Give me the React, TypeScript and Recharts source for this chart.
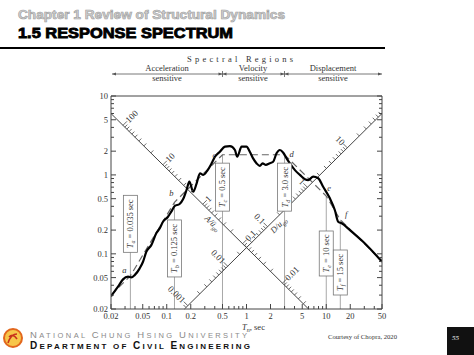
import { LineChart, Line, XAxis, YAxis, ReferenceLine, ReferenceDot } from 'recharts';

// pseudo-velocity spectrum V / u̇go (El Centro, 5% damping)
const periods = [
  0.02, 0.0245, 0.0283, 0.0327, 0.0359, 0.0396, 0.0458, 0.0504, 0.0554, 0.064,
  0.0739, 0.0815, 0.0897, 0.1036, 0.114, 0.126, 0.145, 0.16, 0.177, 0.192,
  0.215, 0.237, 0.261, 0.287, 0.316, 0.365, 0.402, 0.464, 0.537, 0.62,
  0.716, 0.765, 0.868, 1.0, 1.1, 1.21, 1.34, 1.47, 1.59, 1.75,
  1.93, 2.16, 2.38, 2.62, 2.89, 3.18, 3.5, 4.05, 4.67, 5.4,
  5.94, 6.86, 7.92, 9.14, 11.1, 12.8, 14.1, 15.6, 19.8, 29.0, 50,
];
const pseudoVel = [
  0.029, 0.0383, 0.0475, 0.0513, 0.0503, 0.0538, 0.0655, 0.0794, 0.106, 0.129,
  0.182, 0.21, 0.255, 0.295, 0.342, 0.404, 0.428, 0.491, 0.644, 0.82,
  0.612, 0.783, 1.05, 1.0, 1.1, 1.4, 1.7, 1.97, 2.28, 2.32,
  2.07, 1.7, 2.28, 2.28, 1.97, 1.62, 1.4, 1.3, 1.4, 1.34,
  1.4, 1.47, 1.88, 2.07, 1.91, 1.62, 1.4, 1.15, 1.0, 0.88,
  0.861, 0.949, 0.906, 0.708, 0.505, 0.359, 0.255, 0.244, 0.2, 0.142, 0.0794,
];

// idealized spectrum (dashed)
const idealPeriods = [0.02, 0.035, 0.125, 0.5, 3, 10, 15, 50];
const idealVel = [0.03, 0.0526, 0.45, 1.8, 1.8, 0.54, 0.27, 0.081];

// corner periods a..f
const cornerNames = ['a', 'b', 'c', 'd', 'e', 'f'];
const cornerPeriods = [0.035, 0.125, 0.5, 3, 10, 15];
const cornerVel = [0.0526, 0.45, 1.8, 1.8, 0.54, 0.27];
const cornerTexts = ['0.035', '0.125', '0.5', '3.0', '10', '15'];
const boxMid = [0.24, 0.117, 0.7, 0.7, 0.101, 0.058];
const letterOffset = [[-6, -6], [-3, -9], [-8, 0], [7, -1], [3, -8], [6, -6]];

const xTicks = [
  0.02, 0.03, 0.04, 0.05, 0.06, 0.07, 0.08, 0.09, 0.1, 0.2, 0.3, 0.4, 0.5, 0.6,
  0.7, 0.8, 0.9, 1, 2, 3, 4, 5, 6, 7, 8, 9, 10, 20, 30, 40, 50,
];
const yTicks = [
  0.02, 0.03, 0.04, 0.05, 0.06, 0.07, 0.08, 0.09, 0.1, 0.2, 0.3, 0.4, 0.5, 0.6,
  0.7, 0.8, 0.9, 1, 2, 3, 4, 5, 6, 7, 8, 9, 10,
];
const xLabels = [0.02, 0.05, 0.1, 0.2, 0.5, 1, 2, 5, 10, 20, 50];
const yLabels = [0.02, 0.05, 0.1, 0.2, 0.5, 1, 2, 5, 10];

// tripartite axes
const accelPerVel = 0.665; // 2π u̇go / ügo
const dispPerVel = 0.247; // u̇go / (2π ugo)
const axisK = 0.12;
const accelLabels = [100, 10, 1, 0.1, 0.01];
const dispLabels = [0.001, 0.01, 0.1, 1, 10];

const SERIF = '"Liberation Serif", "DejaVu Serif", serif';
const SANS = '"Liberation Sans", Arial, sans-serif';
const AXIS = '#444';

const spectrum = periods.map((T, i) => ({ T, v: pseudoVel[i] }));
const ideal = idealPeriods.map((T, i) => ({ T, v: idealVel[i] }));

function logSteps(lo: number, hi: number) {
  const out: number[] = [];
  for (let e = -4; e <= 3; e++) {
    for (let m = 1; m <= 9; m++) {
      const val = m * Math.pow(10, e);
      if (val >= lo && val <= hi) out.push(val);
    }
  }
  return out;
}
const isDecade = (v: number) => Math.abs(Math.log10(v) - Math.round(Math.log10(v))) < 1e-6;

const accelPos = (A: number) => {
  const T = Math.sqrt((accelPerVel * axisK) / A);
  return { T, v: axisK / T };
};
const dispPos = (D: number) => {
  const T = Math.sqrt(D / (dispPerVel * axisK));
  return { T, v: axisK * T };
};
const accelTicks = logSteps(0.003, 190);
const dispTicks = logSteps(0.0009, 70);

const bottomTick = (p: any) => {
  const val = p.payload.value;
  const major = xLabels.includes(val);
  return (
    <g>
      <line x1={p.x} y1={p.y} x2={p.x} y2={p.y - (major ? 5 : 3)} stroke={AXIS} />
      {major && (
        <text x={p.x} y={p.y + 10} textAnchor="middle" fontSize={8.5} fill="#333" fontFamily={SERIF}>
          {val}
        </text>
      )}
    </g>
  );
};
const topTick = (p: any) => {
  const major = xLabels.includes(p.payload.value);
  return <line x1={p.x} y1={p.y} x2={p.x} y2={p.y + (major ? 5 : 3)} stroke={AXIS} />;
};
const leftTick = (p: any) => {
  const val = p.payload.value;
  const major = yLabels.includes(val);
  return (
    <g>
      <line x1={p.x} y1={p.y} x2={p.x + (major ? 5 : 3)} y2={p.y} stroke={AXIS} />
      {major && (
        <text x={p.x - 3} y={p.y + 3} textAnchor="end" fontSize={8.5} fill="#333" fontFamily={SERIF}>
          {val}
        </text>
      )}
    </g>
  );
};
const rightTick = (p: any) => {
  const major = yLabels.includes(p.payload.value);
  return <line x1={p.x} y1={p.y} x2={p.x - (major ? 5 : 3)} y2={p.y} stroke={AXIS} />;
};

function Sub({ main, sub, rest }: { main: string; sub: string; rest?: string }) {
  return (
    <>
      <tspan fontStyle="italic">{main}</tspan>
      <tspan fontStyle="italic" fontSize="0.72em" dy={2}>{sub}</tspan>
      {rest !== undefined && <tspan dy={-2}>{rest}</tspan>}
    </>
  );
}

function Overlay() {
  return (
    <svg width={474} height={355} style={{ position: 'absolute', left: 0, top: 0 }}>
      <text x={18} y={18.5} fontFamily={SANS} fontWeight={900} fontSize={12} fill="#d0d0d0"
        stroke="#a0a0a0" strokeWidth={0.6} textLength={267} lengthAdjust="spacingAndGlyphs">
        Chapter 1 Review of Structural Dynamics
      </text>
      <text x={18} y={38} fontFamily={SANS} fontWeight={900} fontSize={15.5} fill="#000"
        stroke="#000" strokeWidth={0.9} textLength={215} lengthAdjust="spacingAndGlyphs">
        1.5 RESPONSE SPECTRUM
      </text>
      <line x1={0} y1={48} x2={385} y2={48} stroke="#000" strokeWidth={2} />

      <g fontFamily={SERIF} fontSize={8.5} fill="#333" textAnchor="middle">
        <text x={187} y={62} textAnchor="start" textLength={106} lengthAdjust="spacing">Spectral Regions</text>
        <text x={167} y={71}>Acceleration</text>
        <text x={167} y={81}>sensitive</text>
        <text x={253} y={71}>Velocity</text>
        <text x={253} y={81}>sensitive</text>
        <text x={333} y={71}>Displacement</text>
        <text x={333} y={81}>sensitive</text>
      </g>
      <g stroke="#555" strokeWidth={0.8} fill="#555">
        <line x1={112} y1={74} x2={382} y2={74} />
        <line x1={222.5} y1={71} x2={222.5} y2={77} />
        <line x1={284.5} y1={71} x2={284.5} y2={77} />
        <path d="M112 74 l4 -1.6 v3.2 z" stroke="none" />
        <path d="M382 74 l-4 -1.6 v3.2 z" stroke="none" />
        <path d="M222.5 74 l-4 -1.6 v3.2 z M222.5 74 l4 -1.6 v3.2 z" stroke="none" />
        <path d="M284.5 74 l-4 -1.6 v3.2 z M284.5 74 l4 -1.6 v3.2 z" stroke="none" />
      </g>

      <text x={242} y={330} fontFamily={SERIF} fontSize={8.5} fill="#333">
        <Sub main="T" sub="n" rest=", sec" />
      </text>

      <circle cx={13} cy={338} r={9} fill="#f7c64a" stroke="#e2671d" strokeWidth={2} />
      <path d="M8 343 q3 -9 9 -9 M9 337 q4 -4 8 2" stroke="#c8321c" strokeWidth={1.6} fill="none" />
      <text x={30} y={337.5} fontFamily={SANS} fill="#8a8a8a" textLength={217} lengthAdjust="spacing">
        <tspan fontSize={9.5}>N</tspan><tspan fontSize={7.5}>ATIONAL </tspan>
        <tspan fontSize={9.5}>C</tspan><tspan fontSize={7.5}>HUNG </tspan>
        <tspan fontSize={9.5}>H</tspan><tspan fontSize={7.5}>SING </tspan>
        <tspan fontSize={9.5}>U</tspan><tspan fontSize={7.5}>NIVERSITY</tspan>
      </text>
      <text x={30} y={348.5} fontFamily={SANS} fontWeight={700} fill="#111" textLength={220} lengthAdjust="spacing">
        <tspan fontSize={10}>D</tspan><tspan fontSize={8}>EPARTMENT OF </tspan>
        <tspan fontSize={10}>C</tspan><tspan fontSize={8}>IVIL </tspan>
        <tspan fontSize={10}>E</tspan><tspan fontSize={8}>NGINEERING</tspan>
      </text>
      <text x={328} y={339} fontFamily={SERIF} fontSize={7} fill="#333" textLength={69} lengthAdjust="spacingAndGlyphs">
        Courtesy of Chopra, 2020
      </text>
      <rect x={447} y={327} width={27} height={28} fill="#111" />
      <text x={452} y={340} fontFamily={SERIF} fontStyle="italic" fontSize={7} fill="#fff">55</text>
    </svg>
  );
}

export default function App() {
  return (
    <div style={{ position: 'absolute', left: 0, top: 0, width: 474, height: 355, background: '#fff', overflow: 'hidden' }}>
      <Overlay />
      <div style={{ position: 'absolute', left: 0, top: 0 }}>
        <LineChart width={474} height={355} margin={{ top: 95, right: 91, bottom: 26, left: 81 }}>
          <XAxis dataKey="T" type="number" scale="log" domain={[0.02, 50]} allowDataOverflow
            ticks={xTicks} interval={0} tick={bottomTick} tickLine={false} tickSize={0} tickMargin={0}
            height={20} axisLine={{ stroke: AXIS }} />
          <XAxis xAxisId="top" orientation="top" type="number" scale="log" domain={[0.02, 50]} allowDataOverflow
            ticks={xTicks} interval={0} tick={topTick} tickLine={false} tickSize={0} tickMargin={0}
            height={1} axisLine={{ stroke: AXIS }} />
          <YAxis type="number" scale="log" domain={[0.02, 10]} allowDataOverflow
            ticks={yTicks} interval={0} tick={leftTick} tickLine={false} tickSize={0} tickMargin={0}
            width={30} axisLine={{ stroke: AXIS }} />
          <YAxis yAxisId="right" orientation="right" type="number" scale="log" domain={[0.02, 10]} allowDataOverflow
            ticks={yTicks} interval={0} tick={rightTick} tickLine={false} tickSize={0} tickMargin={0}
            width={1} axisLine={{ stroke: AXIS }} />

          {/* corner period guide lines */}
          {cornerPeriods.map((T, i) => (
            <ReferenceLine key={'g' + i} segment={[{ x: T, y: Math.max(cornerVel[i], boxMid[i]) }, { x: T, y: 0.02 }]}
              stroke="#a8a8a8" strokeWidth={1} />
          ))}

          {/* tripartite diagonal axes */}
          <ReferenceLine segment={[{ x: 0.02, y: axisK / 0.02 }, { x: axisK / 0.02, y: 0.02 }]} stroke={AXIS} strokeWidth={1} />
          <ReferenceLine segment={[{ x: 0.02 / axisK, y: 0.02 }, { x: 50, y: axisK * 50 }]} stroke={AXIS} strokeWidth={1} />
          {accelTicks.map((A, i) => {
            const p = accelPos(A);
            const len = isDecade(A) ? 4 : 2.5;
            return (
              <ReferenceDot key={'at' + i} x={p.T} y={p.v} r={0}
                shape={(s: any) => <line x1={s.cx} y1={s.cy} x2={s.cx + len} y2={s.cy - len} stroke={AXIS} strokeWidth={0.8} />} />
            );
          })}
          {dispTicks.map((D, i) => {
            const p = dispPos(D);
            const len = isDecade(D) ? 4 : 2.5;
            return (
              <ReferenceDot key={'dt' + i} x={p.T} y={p.v} r={0}
                shape={(s: any) => <line x1={s.cx} y1={s.cy} x2={s.cx - len} y2={s.cy - len} stroke={AXIS} strokeWidth={0.8} />} />
            );
          })}
          {accelLabels.map((A) => {
            const p = accelPos(A);
            return (
              <ReferenceDot key={'al' + A} x={p.T} y={p.v} r={0}
                shape={(s: any) => (
                  <text x={s.cx + 4} y={s.cy - 4} transform={`rotate(-45 ${s.cx + 4} ${s.cy - 4})`} dy={3}
                    fontFamily={SERIF} fontSize={9} fill="#333" textAnchor="start">{String(A)}</text>
                )} />
            );
          })}
          {dispLabels.map((D) => {
            const p = dispPos(D);
            return (
              <ReferenceDot key={'dl' + D} x={p.T} y={p.v} r={0}
                shape={(s: any) => (
                  <text x={s.cx - 4} y={s.cy - 4} transform={`rotate(45 ${s.cx - 4} ${s.cy - 4})`} dy={3}
                    fontFamily={SERIF} fontSize={9} fill="#333" textAnchor="end">{String(D)}</text>
                )} />
            );
          })}
          <ReferenceDot x={0.43} y={axisK / 0.43} r={0}
            shape={(s: any) => (
              <text x={s.cx - 4.5} y={s.cy + 4.5} transform={`rotate(45 ${s.cx - 4.5} ${s.cy + 4.5})`} dy={3}
                fontFamily={SERIF} fontSize={8.5} fill="#333" textAnchor="middle">
                <Sub main="A/ü" sub="go" />
              </text>
            )} />
          <ReferenceDot x={2.2} y={axisK * 2.2} r={0}
            shape={(s: any) => (
              <text x={s.cx + 4.5} y={s.cy + 4.5} transform={`rotate(-45 ${s.cx + 4.5} ${s.cy + 4.5})`} dy={3}
                fontFamily={SERIF} fontSize={8.5} fill="#333" textAnchor="middle">
                <Sub main="D/u" sub="go" />
              </text>
            )} />

          <Line data={ideal} dataKey="v" type="linear" stroke="#666" strokeWidth={1.2} strokeDasharray="7 4"
            dot={false} activeDot={false} isAnimationActive={false} />
          <Line data={spectrum} dataKey="v" type="monotone" stroke="#000" strokeWidth={2.2}
            dot={false} activeDot={false} isAnimationActive={false} />

          {/* corner letters and period boxes */}
          {cornerPeriods.map((T, i) => (
            <ReferenceDot key={'cl' + i} x={T} y={cornerVel[i]} r={0}
              shape={(s: any) => (
                <text x={s.cx + letterOffset[i][0]} y={s.cy + letterOffset[i][1]} dy={3} textAnchor="middle"
                  fontFamily={SERIF} fontStyle="italic" fontSize={8.5} fill="#333">{cornerNames[i]}</text>
              )} />
          ))}
          {cornerPeriods.map((T, i) => (
            <ReferenceDot key={'cb' + i} x={T} y={boxMid[i]} r={0}
              shape={(s: any) => {
                const h = cornerTexts[i].length > 3 ? 57 : cornerTexts[i].length > 2 ? 48 : 45;
                return (
                  <g>
                    <rect x={s.cx - 7} y={s.cy - h / 2} width={14} height={h} fill="#fff" stroke="#777" strokeWidth={0.8} />
                    <text x={s.cx} y={s.cy} dy={3} transform={`rotate(-90 ${s.cx} ${s.cy})`} textAnchor="middle"
                      fontFamily={SERIF} fontSize={8.5} fill="#333">
                      <Sub main="T" sub={cornerNames[i]} rest={` = ${cornerTexts[i]} sec`} />
                    </text>
                  </g>
                );
              }} />
          ))}
        </LineChart>
      </div>
    </div>
  );
}
